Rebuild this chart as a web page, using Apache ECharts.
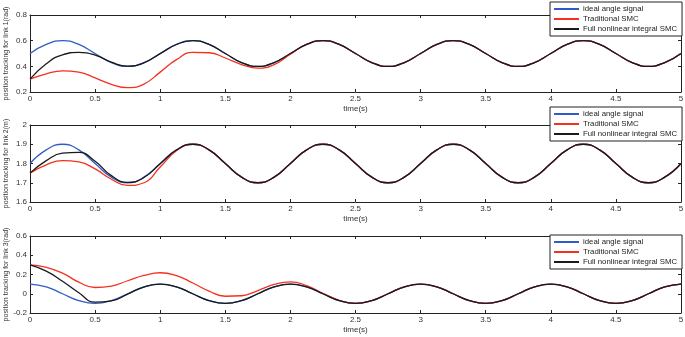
<!DOCTYPE html>
<html>
<head>
<meta charset="utf-8">
<script src="https://cdn.jsdelivr.net/npm/echarts@6/dist/echarts.min.js"></script>
<style>
  html, body { margin: 0; padding: 0; background: #fff; }
  #chart { width: 685px; height: 337px; }
</style>
</head>
<body>
<div id="chart"></div>
<script>
// time samples (s)
const time = [0, 0.125, 0.25, 0.375, 0.5, 0.625, 0.75, 0.875,
  1, 1.125, 1.25, 1.375, 1.5, 1.625, 1.75, 1.875,
  2, 2.125, 2.25, 2.375, 2.5, 2.625, 2.75, 2.875,
  3, 3.125, 3.25, 3.375, 3.5, 3.625, 3.75, 3.875,
  4, 4.125, 4.25, 4.375, 4.5, 4.625, 4.75, 4.875, 5];

// link 1
const ideal1 = [0.5, 0.571, 0.6, 0.571, 0.5, 0.429, 0.4, 0.429,
  0.5, 0.571, 0.6, 0.571, 0.5, 0.429, 0.4, 0.429,
  0.5, 0.571, 0.6, 0.571, 0.5, 0.429, 0.4, 0.429,
  0.5, 0.571, 0.6, 0.571, 0.5, 0.429, 0.4, 0.429,
  0.5, 0.571, 0.6, 0.571, 0.5, 0.429, 0.4, 0.429, 0.5];
const trad1 = [0.3, 0.342, 0.365, 0.355, 0.31, 0.26, 0.234, 0.262,
  0.355, 0.452, 0.508, 0.506, 0.465, 0.414, 0.386, 0.414,
  0.495, 0.571, 0.6, 0.571, 0.5, 0.429, 0.4, 0.429,
  0.5, 0.571, 0.6, 0.571, 0.5, 0.429, 0.4, 0.429,
  0.5, 0.571, 0.6, 0.571, 0.5, 0.429, 0.4, 0.429, 0.5];
const full1 = [0.3, 0.42, 0.49, 0.508, 0.488, 0.432, 0.401, 0.427,
  0.499, 0.57, 0.6, 0.571, 0.5, 0.429, 0.4, 0.429,
  0.5, 0.571, 0.6, 0.571, 0.5, 0.429, 0.4, 0.429,
  0.5, 0.571, 0.6, 0.571, 0.5, 0.429, 0.4, 0.429,
  0.5, 0.571, 0.6, 0.571, 0.5, 0.429, 0.4, 0.429, 0.5];

// link 2
const ideal2 = [1.8, 1.871, 1.9, 1.871, 1.8, 1.729, 1.7, 1.729,
  1.8, 1.871, 1.9, 1.871, 1.8, 1.729, 1.7, 1.729,
  1.8, 1.871, 1.9, 1.871, 1.8, 1.729, 1.7, 1.729,
  1.8, 1.871, 1.9, 1.871, 1.8, 1.729, 1.7, 1.729,
  1.8, 1.871, 1.9, 1.871, 1.8, 1.729, 1.7, 1.729, 1.8];
const trad2 = [1.75, 1.793, 1.815, 1.808, 1.772, 1.718, 1.686, 1.7,
  1.782, 1.866, 1.9, 1.871, 1.8, 1.729, 1.7, 1.729,
  1.8, 1.871, 1.9, 1.871, 1.8, 1.729, 1.7, 1.729,
  1.8, 1.871, 1.9, 1.871, 1.8, 1.729, 1.7, 1.729,
  1.8, 1.871, 1.9, 1.871, 1.8, 1.729, 1.7, 1.729, 1.8];
const full2 = [1.75, 1.815, 1.854, 1.858, 1.812, 1.737, 1.702, 1.727,
  1.799, 1.87, 1.9, 1.871, 1.8, 1.729, 1.7, 1.729,
  1.8, 1.871, 1.9, 1.871, 1.8, 1.729, 1.7, 1.729,
  1.8, 1.871, 1.9, 1.871, 1.8, 1.729, 1.7, 1.729,
  1.8, 1.871, 1.9, 1.871, 1.8, 1.729, 1.7, 1.729, 1.8];

// link 3
const ideal3 = [0.1, 0.071, 0, -0.071, -0.1, -0.071, 0, 0.071,
  0.1, 0.071, 0, -0.071, -0.1, -0.071, 0, 0.071,
  0.1, 0.071, 0, -0.071, -0.1, -0.071, 0, 0.071,
  0.1, 0.071, 0, -0.071, -0.1, -0.071, 0, 0.071,
  0.1, 0.071, 0, -0.071, -0.1, -0.071, 0, 0.071, 0.1];
const trad3 = [0.3, 0.275, 0.215, 0.12, 0.065, 0.08, 0.135, 0.19,
  0.218, 0.188, 0.112, 0.027, -0.026, -0.021, 0.033, 0.097,
  0.124, 0.085, 0.005, -0.068, -0.1, -0.071, 0, 0.071,
  0.1, 0.071, 0, -0.071, -0.1, -0.071, 0, 0.071,
  0.1, 0.071, 0, -0.071, -0.1, -0.071, 0, 0.071, 0.1];
const full3 = [0.3, 0.235, 0.13, 0.01, -0.088, -0.075, -0.003, 0.07,
  0.1, 0.071, 0, -0.071, -0.1, -0.071, 0, 0.071,
  0.1, 0.071, 0, -0.071, -0.1, -0.071, 0, 0.071,
  0.1, 0.071, 0, -0.071, -0.1, -0.071, 0, 0.071,
  0.1, 0.071, 0, -0.071, -0.1, -0.071, 0, 0.071, 0.1];

const names = ['ideal angle signal', 'Traditional SMC', 'Full nonlinear integral SMC'];
const colors = ['#2f5cc4', '#f5301f', '#1a1a1a'];
const yNames = ['position tracking for link 1(rad)', 'position tracking for link 2(m)', 'position tracking for link 3(rad)'];
const yRanges = [[0.2, 0.8, 0.2], [1.6, 2, 0.1], [-0.2, 0.6, 0.2]];
const panels = [[ideal1, trad1, full1], [ideal2, trad2, full2], [ideal3, trad3, full3]];

const font = 'Liberation Sans, Arial, sans-serif';
const gridTops = [15, 125, 236];
const legendTops = [2, 107, 235];

let chart = echarts.init(document.getElementById('chart'));

let grids = [], xAxes = [], yAxes = [], series = [], legends = [];
const tick = { show: true, inside: true, length: 3, lineStyle: { color: '#222' } };
const line = { show: true, onZero: false, lineStyle: { color: '#222', width: 1 } };

gridTops.forEach((top, i) => {
  grids.push({ left: 30, width: 651, top: top, height: 77, show: false,
    containLabel: false, outerBoundsMode: 'none' });
  xAxes.push({
    gridIndex: i, type: 'value', min: 0, max: 5, interval: 0.5, position: 'bottom',
    name: 'time(s)', nameLocation: 'middle', nameGap: 13, nameMoveOverlap: false,
    nameTextStyle: { fontSize: 8, color: '#333', fontFamily: font },
    axisLine: line, axisTick: tick, splitLine: { show: false },
    axisLabel: { fontSize: 8, color: '#333', fontFamily: font, margin: 3 }
  });
  xAxes.push({
    gridIndex: i, type: 'value', min: 0, max: 5, interval: 0.5, position: 'top',
    axisLine: line, axisTick: tick, splitLine: { show: false }, axisLabel: { show: false }
  });
  yAxes.push({
    gridIndex: i, type: 'value', min: yRanges[i][0], max: yRanges[i][1], interval: yRanges[i][2],
    position: 'left', name: yNames[i], nameLocation: 'middle', nameGap: 20, nameRotate: 90,
    nameMoveOverlap: false,
    nameTextStyle: { fontSize: 7, color: '#333', fontFamily: font },
    axisLine: line, axisTick: tick, splitLine: { show: false },
    axisLabel: { fontSize: 8, color: '#333', fontFamily: font, margin: 3 }
  });
  yAxes.push({
    gridIndex: i, type: 'value', min: yRanges[i][0], max: yRanges[i][1], interval: yRanges[i][2],
    position: 'right', axisLine: line, axisTick: tick, splitLine: { show: false },
    axisLabel: { show: false }
  });
  panels[i].forEach((vals, k) => {
    series.push({
      name: names[k], type: 'line', xAxisIndex: 2 * i, yAxisIndex: 2 * i,
      data: time.map((t, j) => [t, vals[j]]),
      smooth: true, showSymbol: false, symbol: 'none',
      lineStyle: { color: colors[k], width: 1.3 }, itemStyle: { color: colors[k] },
      z: 2 + k
    });
  });
  legends.push({
    data: names, orient: 'vertical', left: 550, top: legendTops[i],
    itemWidth: 25, itemHeight: 2, itemGap: 2, icon: 'rect',
    padding: [3, 5, 3, 4], backgroundColor: '#fff', borderColor: '#222', borderWidth: 1,
    textStyle: { fontSize: 7.8, color: '#222', fontFamily: font, padding: [0, 0, 0, -1] },
    z: 10
  });
});

let option = {
  animation: false,
  grid: grids,
  xAxis: xAxes,
  yAxis: yAxes,
  legend: legends,
  series: series
};
option && chart.setOption(option);
</script>
</body>
</html>
